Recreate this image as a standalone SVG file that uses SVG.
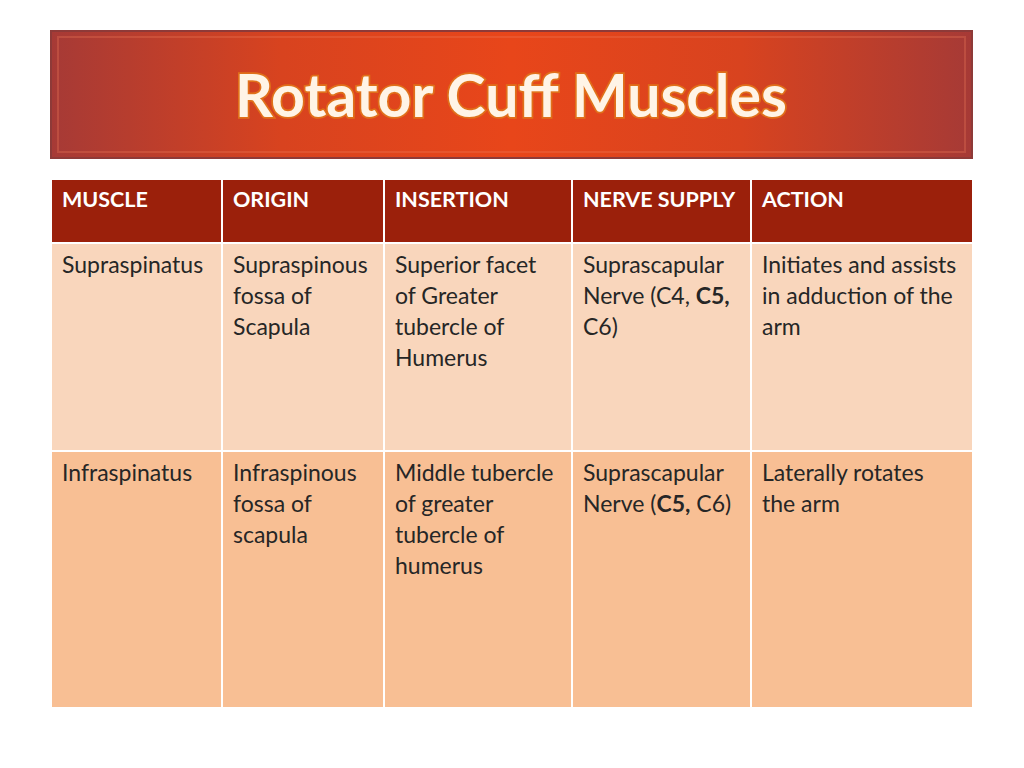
<svg xmlns="http://www.w3.org/2000/svg" width="1024" height="768" viewBox="0 0 1024 768">
<defs>
<linearGradient id="bn" x1="0" y1="0" x2="1" y2="0">
<stop offset="0" stop-color="#a63a36"/><stop offset="0.25" stop-color="#d8431f"/><stop offset="0.5" stop-color="#e8461a"/><stop offset="0.75" stop-color="#d8431f"/><stop offset="1" stop-color="#a63a36"/>
</linearGradient>
<style>
text{font-family:Lato,"Open Sans","Liberation Sans",sans-serif;font-size:23px;fill:#262626}
.h{fill:#fff;font-weight:bold;font-size:21.5px}
.hd{fill:#9b200b}
.r1{fill:#f9d6bc}
.r2{fill:#f8bf94}
</style>
</defs>
<rect width="1024" height="768" fill="#fff"/>
<g id="banner">
<rect x="51" y="31" width="921" height="127" fill="url(#bn)" stroke="#8e3a38" stroke-width="2"/>
<rect x="58" y="37" width="907" height="115" fill="none" stroke="#f07a5a" stroke-opacity="0.3" stroke-width="2"/>
<text x="511" y="117" text-anchor="middle" style="font-size:59px;font-weight:bold;fill:#fff4e6;stroke:#e0701a;stroke-width:3.5;paint-order:stroke">Rotator Cuff Muscles</text>
</g>
<g id="table">
<rect class="hd" x="52" y="180" width="169" height="62"/><rect class="hd" x="223" y="180" width="160" height="62"/><rect class="hd" x="385" y="180" width="186" height="62"/><rect class="hd" x="573" y="180" width="177" height="62"/><rect class="hd" x="752" y="180" width="220" height="62"/>
<rect class="r1" x="52" y="244" width="169" height="206"/><rect class="r1" x="223" y="244" width="160" height="206"/><rect class="r1" x="385" y="244" width="186" height="206"/><rect class="r1" x="573" y="244" width="177" height="206"/><rect class="r1" x="752" y="244" width="220" height="206"/>
<rect class="r2" x="52" y="452" width="169" height="255"/><rect class="r2" x="223" y="452" width="160" height="255"/><rect class="r2" x="385" y="452" width="186" height="255"/><rect class="r2" x="573" y="452" width="177" height="255"/><rect class="r2" x="752" y="452" width="220" height="255"/>
<text class="h" x="62" y="207">MUSCLE</text><text class="h" x="233" y="207">ORIGIN</text><text class="h" x="395" y="207">INSERTION</text><text class="h" x="583" y="207">NERVE SUPPLY</text><text class="h" x="762" y="207">ACTION</text>
<text x="62" y="273">Supraspinatus</text>
<text x="233" y="273">Supraspinous<tspan x="233" dy="31">fossa of</tspan><tspan x="233" dy="31">Scapula</tspan></text>
<text x="395" y="273">Superior facet<tspan x="395" dy="31">of Greater</tspan><tspan x="395" dy="31">tubercle of</tspan><tspan x="395" dy="31">Humerus</tspan></text>
<text x="583" y="273">Suprascapular<tspan x="583" dy="31">Nerve (C4, </tspan><tspan font-weight="bold">C5,</tspan><tspan x="583" dy="31">C6)</tspan></text>
<text x="762" y="273">Initiates and assists<tspan x="762" dy="31">in adduction of the</tspan><tspan x="762" dy="31">arm</tspan></text>
<text x="62" y="481">Infraspinatus</text>
<text x="233" y="481">Infraspinous<tspan x="233" dy="31">fossa of</tspan><tspan x="233" dy="31">scapula</tspan></text>
<text x="395" y="481">Middle tubercle<tspan x="395" dy="31">of greater</tspan><tspan x="395" dy="31">tubercle of</tspan><tspan x="395" dy="31">humerus</tspan></text>
<text x="583" y="481">Suprascapular<tspan x="583" dy="31">Nerve (</tspan><tspan font-weight="bold">C5,</tspan><tspan> C6)</tspan></text>
<text x="762" y="481">Laterally rotates<tspan x="762" dy="31">the arm</tspan></text>
</g>
</svg>
